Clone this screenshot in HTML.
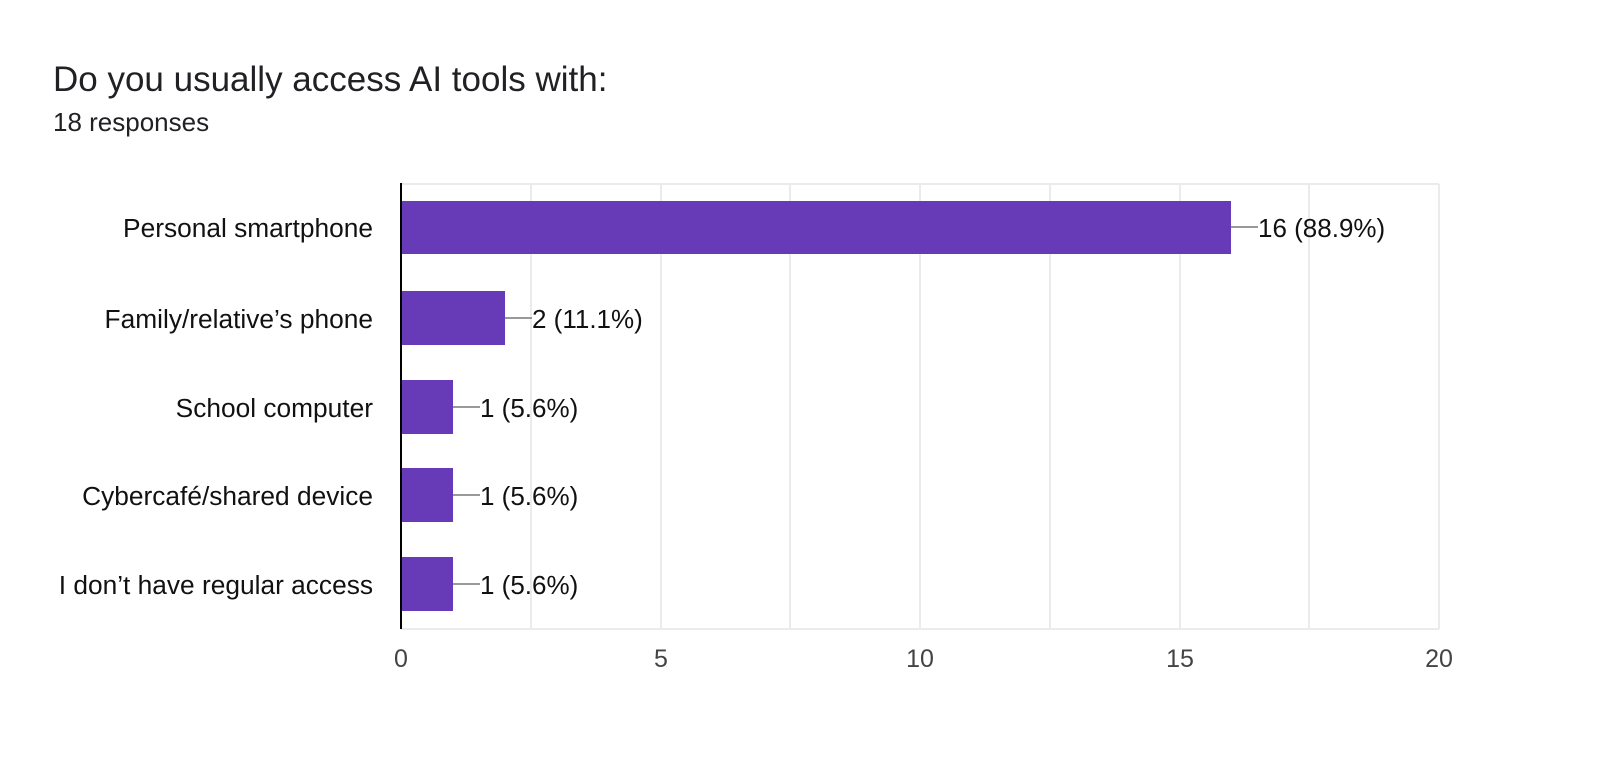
<!DOCTYPE html>
<html><head><meta charset="utf-8"><style>
body{margin:0;background:#fff;}
svg text{font-family:"Liberation Sans",Arial,sans-serif;}
</style></head><body>
<svg width="1600" height="761" xmlns="http://www.w3.org/2000/svg">
<rect width="1600" height="761" fill="#fff"/>
<text x="53" y="91" font-size="35" fill="#202124">Do you usually access AI tools with:</text>
<text x="53" y="131" font-size="26" fill="#202124">18 responses</text>
<g stroke="#ebebeb" stroke-width="2">
<line x1="401" y1="184" x2="1439" y2="184"/>
<line x1="401" y1="629" x2="1439" y2="629"/>
<line x1="531" y1="184" x2="531" y2="629"/>
<line x1="661" y1="184" x2="661" y2="629"/>
<line x1="790" y1="184" x2="790" y2="629"/>
<line x1="920" y1="184" x2="920" y2="629"/>
<line x1="1050" y1="184" x2="1050" y2="629"/>
<line x1="1180" y1="184" x2="1180" y2="629"/>
<line x1="1309" y1="184" x2="1309" y2="629"/>
<line x1="1439" y1="184" x2="1439" y2="629"/>
</g>
<g fill="#673ab7">
<rect x="401" y="201" width="830" height="53"/>
<rect x="401" y="291" width="104" height="54"/>
<rect x="401" y="380" width="52" height="54"/>
<rect x="401" y="468" width="52" height="54"/>
<rect x="401" y="557" width="52" height="54"/>
</g>
<line x1="401" y1="183" x2="401" y2="629" stroke="#000" stroke-width="2"/>
<g stroke="#999" stroke-width="2">
<line x1="1231" y1="227" x2="1258" y2="227"/>
<line x1="505" y1="318" x2="532" y2="318"/>
<line x1="453" y1="407" x2="480" y2="407"/>
<line x1="453" y1="495" x2="480" y2="495"/>
<line x1="453" y1="584" x2="480" y2="584"/>
</g>
<g font-size="26" fill="#111">
<text x="1258" y="237">16 (88.9%)</text>
<text x="532" y="328">2 (11.1%)</text>
<text x="480" y="417">1 (5.6%)</text>
<text x="480" y="505">1 (5.6%)</text>
<text x="480" y="594">1 (5.6%)</text>
</g>
<g font-size="26.3" fill="#111" text-anchor="end">
<text x="373" y="237">Personal smartphone</text>
<text x="373" y="328">Family/relative’s phone</text>
<text x="373" y="417">School computer</text>
<text x="373" y="505">Cybercafé/shared device</text>
<text x="373" y="594">I don’t have regular access</text>
</g>
<g font-size="25" fill="#444" text-anchor="middle">
<text x="401" y="667">0</text>
<text x="661" y="667">5</text>
<text x="920" y="667">10</text>
<text x="1180" y="667">15</text>
<text x="1439" y="667">20</text>
</g>
</svg>
</body></html>
